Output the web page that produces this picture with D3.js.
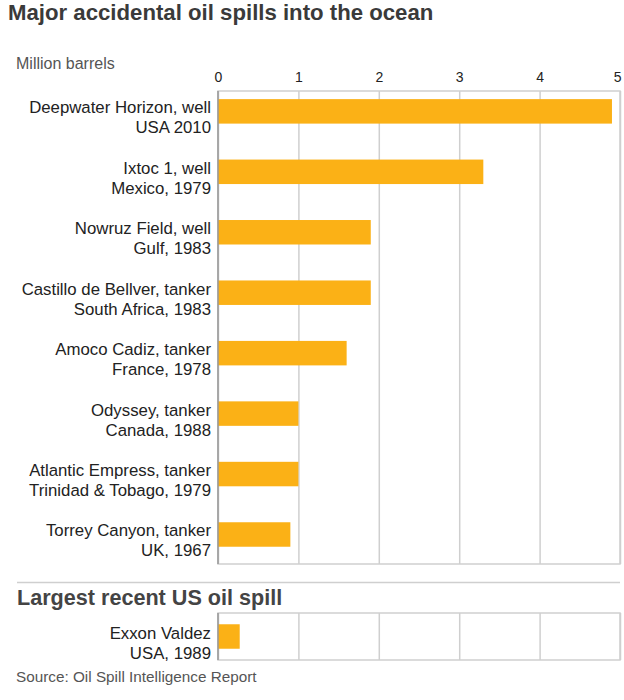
<!DOCTYPE html>
<html>
<head>
<meta charset="utf-8">
<script src="https://cdn.jsdelivr.net/npm/d3@7"></script>
<style>
    body { margin: 0; background: #fff; }
    text { font-family: "Liberation Sans", Arial, Helvetica, sans-serif; }
</style>
</head>
<body>
<div id="container"></div>
<script>
// spill names, second label line, and size in million barrels
const spillNames = ["Deepwater Horizon, well", "Ixtoc 1, well", "Nowruz Field, well",
    "Castillo de Bellver, tanker", "Amoco Cadiz, tanker", "Odyssey, tanker",
    "Atlantic Empress, tanker", "Torrey Canyon, tanker"];
const spillPlaces = ["USA 2010", "Mexico, 1979", "Gulf, 1983", "South Africa, 1983",
    "France, 1978", "Canada, 1988", "Trinidad & Tobago, 1979", "UK, 1967"];
const spillValues = [4.9, 3.3, 1.9, 1.9, 1.6, 1.0, 1.0, 0.9];

const usNames = ["Exxon Valdez"];
const usPlaces = ["USA, 1989"];
const usValues = [0.27];

const tickValues = [0, 1, 2, 3, 4, 5];

const width = 624, height = 700;
const plotLeft = 218, plotRight = 620;
const barColor = "#fbb116";
const gridColor = "#cfcfcf";

const svg = d3.select("#container").append("svg")
    .attr("width", width)
    .attr("height", height);

// x scale shared by both panels
const x = d3.scaleLinear().domain([0, 5]).range([plotLeft, plotRight]);

// title
svg.append("text")
    .attr("x", 8).attr("y", 20)
    .style("font-size", "22.2px").style("font-weight", "bold")
    .style("fill", "#3a3a3a")
    .text("Major accidental oil spills into the ocean");

svg.append("text")
    .attr("x", 16).attr("y", 69)
    .style("font-size", "16px").style("fill", "#555")
    .text("Million barrels");

function drawPanel(names, places, values, top, bottom, yScale, showTicks) {
    const g = svg.append("g");

    // gridlines (and tick labels for the top panel)
    const axis = d3.axisTop(x).tickValues(tickValues)
        .tickSize(-(bottom - top)).tickPadding(9)
        .tickFormat(showTicks ? d3.format("d") : "");
    const ax = g.append("g")
        .attr("transform", `translate(0,${top})`)
        .call(axis);
    ax.select(".domain").remove();
    ax.selectAll(".tick line").attr("stroke", gridColor).attr("stroke-width", 1.5);
    ax.selectAll(".tick text")
        .style("font-size", "14px").style("fill", "#222")
        .style("font-family", "\"Liberation Sans\", Arial, sans-serif");
    // last label sits inside the frame edge
    ax.selectAll(".tick text").filter(d => d === 5)
        .attr("text-anchor", "end").attr("x", 1);

    // frame
    g.append("rect")
        .attr("x", x(0)).attr("y", top)
        .attr("width", x(5) - x(0)).attr("height", bottom - top)
        .attr("fill", "none").attr("stroke", gridColor).attr("stroke-width", 1.5);

    // bars
    g.selectAll(".bar").data(values).enter().append("rect")
        .attr("class", "bar")
        .attr("x", x(0))
        .attr("y", (d, i) => yScale(names[i]))
        .attr("width", d => x(d) - x(0))
        .attr("height", yScale.bandwidth())
        .attr("fill", barColor);

    // zero line
    g.append("line")
        .attr("x1", x(0)).attr("x2", x(0))
        .attr("y1", top).attr("y2", bottom)
        .attr("stroke", "#999").attr("stroke-width", 1.5);

    // two line labels
    const labels = g.selectAll(".label").data(names).enter().append("text")
        .attr("class", "label")
        .attr("text-anchor", "end")
        .style("font-size", "16.8px").style("fill", "#222");
    labels.append("tspan")
        .attr("x", 211)
        .attr("y", d => yScale(d) + yScale.bandwidth() / 2 + 2)
        .text(d => d);
    labels.append("tspan")
        .attr("x", 211)
        .attr("y", d => yScale(d) + yScale.bandwidth() / 2 + 22)
        .text((d, i) => places[i]);
}

// main panel
const mainTop = 91, mainBottom = 564;
const yMain = d3.scaleBand().domain(spillNames)
    .range([mainTop, mainBottom])
    .paddingInner(0.595).paddingOuter(0.21).align(0.32);
drawPanel(spillNames, spillPlaces, spillValues, mainTop, mainBottom, yMain, true);

// separator
svg.append("line")
    .attr("x1", 17).attr("x2", 620)
    .attr("y1", 582.5).attr("y2", 582.5)
    .attr("stroke", gridColor).attr("stroke-width", 1.5);

svg.append("text")
    .attr("x", 17).attr("y", 605)
    .style("font-size", "21.6px").style("font-weight", "bold")
    .style("fill", "#444")
    .text("Largest recent US oil spill");

// US panel
const usTop = 613, usBottom = 660;
const yUs = d3.scaleBand().domain(usNames)
    .range([usTop, usBottom])
    .paddingOuter(0.46);
drawPanel(usNames, usPlaces, usValues, usTop, usBottom, yUs, false);

svg.append("text")
    .attr("x", 16).attr("y", 682)
    .style("font-size", "15.3px").style("fill", "#555")
    .text("Source: Oil Spill Intelligence Report");
</script>
</body>
</html>
